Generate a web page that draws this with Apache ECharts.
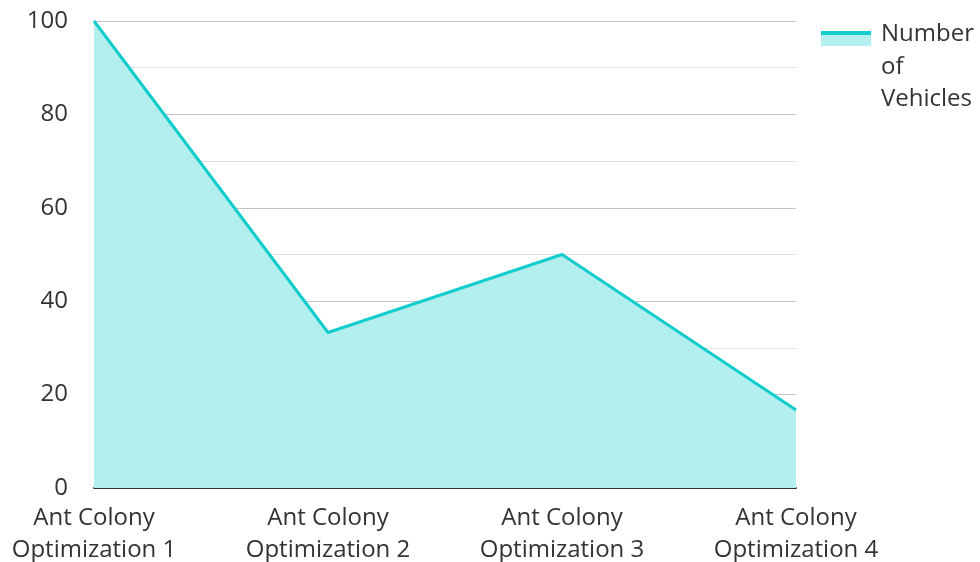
<!DOCTYPE html>
<html>
<head>
<meta charset="utf-8">
<style>
  html, body { margin: 0; padding: 0; background: #ffffff; }
  #chart { width: 980px; height: 562px; }
</style>
<script src="https://cdn.jsdelivr.net/npm/echarts@6/dist/echarts.min.js"></script>
</head>
<body>
<div id="chart"></div>
<script>
// Categories and series values
const categories = [
  'Ant Colony\nOptimization 1',
  'Ant Colony\nOptimization 2',
  'Ant Colony\nOptimization 3',
  'Ant Colony\nOptimization 4'
];
const vehicles = [100, 33.3, 50, 16.7];
const seriesName = 'Number of Vehicles';
const yTicks = { min: 0, max: 100, interval: 20 };

const lineColor = '#12cccc';
const areaColor = '#b2efee';
const textColor = '#333333';

// Legend icon: a thick line over a filled band, placed at the top of a tall
// transparent box so it sits beside the first line of the wrapped legend text
const iconSvg =
  '<svg xmlns="http://www.w3.org/2000/svg" width="50" height="98">' +
  '<rect x="0" y="16" width="50" height="12" fill="' + areaColor + '"/>' +
  '<rect x="0" y="13" width="50" height="4" fill="' + lineColor + '"/>' +
  '</svg>';
const iconUrl = 'image://data:image/svg+xml;charset=utf-8,' + encodeURIComponent(iconSvg);

const chart = echarts.init(document.getElementById('chart'));
chart.setOption({
  animation: false,
  textStyle: { fontFamily: 'Open Sans' },
  grid: {
    left: 94, right: 184, top: 21, bottom: 74,
    containLabel: false,
    outerBoundsMode: 'none'
  },
  legend: {
    left: 821,
    top: 18,
    padding: 0,
    orient: 'vertical',
    itemWidth: 50,
    itemHeight: 98,
    align: 'left',
    icon: iconUrl,
    formatter: (name) => name.replace(/ /g, '\n'),
    textStyle: {
      fontFamily: 'Open Sans',
      fontSize: 24,
      color: textColor,
      lineHeight: 32.5,
      padding: [0, 0, 0, 5]
    },
    data: [{ name: seriesName, icon: iconUrl }]
  },
  xAxis: {
    type: 'category',
    data: categories,
    boundaryGap: false,
    axisLine: { lineStyle: { color: textColor, width: 2 } },
    axisTick: { show: false },
    axisLabel: {
      fontFamily: 'Open Sans',
      fontSize: 24,
      color: textColor,
      lineHeight: 32,
      margin: 14,
      interval: 0
    },
    splitLine: { show: false }
  },
  yAxis: {
    type: 'value',
    min: yTicks.min,
    max: yTicks.max,
    interval: yTicks.interval,
    axisLine: { show: false },
    axisTick: { show: false },
    axisLabel: {
      fontFamily: 'Open Sans',
      fontSize: 24,
      color: textColor,
      margin: 26
    },
    splitLine: { lineStyle: { color: '#c4c4c4', width: 1 } },
    minorTick: { show: false, splitNumber: 2 },
    minorSplitLine: { show: true, lineStyle: { color: '#e2e2e2', width: 1 } }
  },
  series: [{
    name: seriesName,
    type: 'line',
    data: vehicles,
    symbol: 'none',
    lineStyle: { color: lineColor, width: 3 },
    itemStyle: { color: lineColor },
    areaStyle: { color: areaColor, opacity: 1 },
    z: 1
  }]
});
</script>
</body>
</html>
